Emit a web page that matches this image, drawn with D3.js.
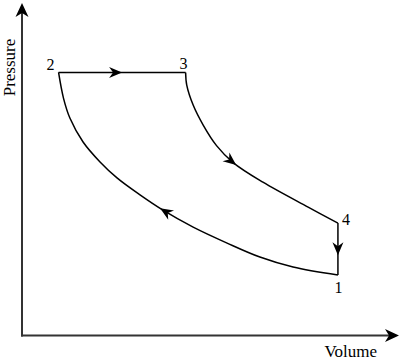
<!DOCTYPE html>
<html>
<head>
<meta charset="utf-8">
<script src="https://cdn.jsdelivr.net/npm/d3@7"></script>
<style>
  body { margin: 0; background: #fff; }
  svg { display: block; }
  text { font-family: "Liberation Serif", "Times New Roman", serif; fill: #000; }
</style>
</head>
<body>
<div id="chart"></div>
<script>
// ─── DATA (arbitrary units) ───
const stateNames = ["1", "2", "3", "4"];
const stateVolume = [8.38, 0.97, 4.34, 8.38];
const statePressure = [1.82, 7.91, 7.91, 3.38];

// 1 -> 2 compression curve
const compressionVolume = [8.38, 7.19, 6.31, 5.44, 4.54, 3.74, 3.13, 2.52, 2.07, 1.62, 1.27, 1.10, 0.97];
const compressionPressure = [1.82, 2.06, 2.36, 2.78, 3.26, 3.77, 4.23, 4.74, 5.22, 5.82, 6.54, 7.14, 7.91];

// 3 -> 4 expansion curve
const expansionVolume = [4.34, 4.37, 4.54, 4.81, 5.16, 5.60, 6.39, 7.59, 8.38];
const expansionPressure = [7.91, 7.53, 6.93, 6.32, 5.71, 5.20, 4.61, 3.86, 3.38];

// where the direction arrow sits on each process (fraction of its length)
const arrowFractions = [0.5, 0.48, 0.62, 0.52]; // 2-3, 3-4, 4-1, 1-2

const axisLabels = ["Volume", "Pressure"];

// ─── SETUP ───
const width = 400, height = 362;
const svg = d3.select("#chart").append("svg")
    .attr("width", width)
    .attr("height", height);

const x = d3.scaleLinear().domain([0, 10]).range([22, 399]);
const y = d3.scaleLinear().domain([0, 10]).range([335.5, 3]);

const axisColor = "#333";
const arrowShape = "M0,0L-14,-6.5L-10,0L-14,6.5Z";

// ─── AXES ───
svg.append("g")
    .attr("transform", `translate(0,${y(0)})`)
    .call(d3.axisBottom(x).tickValues([]).tickSizeOuter(0))
    .call(g => g.select(".domain")
        .attr("d", `M${x(0) - 1},0H${x(10) - 8}`)
        .attr("stroke", axisColor)
        .attr("stroke-width", 2));

svg.append("g")
    .attr("transform", `translate(${x(0)},0)`)
    .call(d3.axisLeft(y).tickValues([]).tickSizeOuter(0))
    .call(g => g.select(".domain")
        .attr("d", `M0,${y(0) + 1}V${y(10) + 8}`)
        .attr("stroke", axisColor)
        .attr("stroke-width", 2));

svg.append("path")
    .attr("d", arrowShape)
    .attr("fill", "#000")
    .attr("transform", `translate(${x(10)},${y(0)})`);

svg.append("path")
    .attr("d", arrowShape)
    .attr("fill", "#000")
    .attr("transform", `translate(${x(0)},${y(10)}) rotate(-90)`);

svg.append("text")
    .attr("x", 377)
    .attr("y", 357)
    .attr("text-anchor", "end")
    .attr("font-size", "17px")
    .text(axisLabels[0]);

svg.append("text")
    .attr("transform", `translate(15,${y(0) - 268}) rotate(-90)`)
    .attr("text-anchor", "middle")
    .attr("font-size", "17px")
    .text(axisLabels[1]);

// ─── PROCESSES ───
const pts = (vs, ps) => vs.map((v, i) => ({ v, p: ps[i] }));
const state = i => ({ v: stateVolume[i], p: statePressure[i] });

const processes = [
    [state(1), state(2)],                          // 2 -> 3
    pts(expansionVolume, expansionPressure),       // 3 -> 4
    [state(3), state(0)],                          // 4 -> 1
    pts(compressionVolume, compressionPressure)    // 1 -> 2
];

const line = d3.line()
    .x(d => x(d.v))
    .y(d => y(d.p))
    .curve(d3.curveCatmullRom.alpha(0.5));

const paths = svg.selectAll(".process")
    .data(processes)
    .enter()
    .append("path")
    .attr("class", "process")
    .attr("d", line)
    .attr("fill", "none")
    .attr("stroke", "#000")
    .attr("stroke-width", 1.5);

// direction arrows along each path
paths.each(function(d, i) {
    const len = this.getTotalLength();
    const tip = this.getPointAtLength(len * arrowFractions[i]);
    const back = this.getPointAtLength(len * arrowFractions[i] - 4);
    const angle = Math.atan2(tip.y - back.y, tip.x - back.x) * 180 / Math.PI;
    svg.append("path")
        .attr("d", "M0,0L-13,-5.5L-9,0L-13,5.5Z")
        .attr("fill", "#000")
        .attr("transform", `translate(${tip.x},${tip.y}) rotate(${angle})`);
});

// ─── STATE LABELS ───
const labelOffsets = [[0.5, 18], [-8, -2.5], [-2, -3], [8, 2]];
svg.selectAll(".state")
    .data(stateNames)
    .enter()
    .append("text")
    .attr("class", "state")
    .attr("x", (d, i) => x(stateVolume[i]) + labelOffsets[i][0])
    .attr("y", (d, i) => y(statePressure[i]) + labelOffsets[i][1])
    .attr("text-anchor", "middle")
    .attr("font-size", "16px")
    .text(d => d);
</script>
</body>
</html>
